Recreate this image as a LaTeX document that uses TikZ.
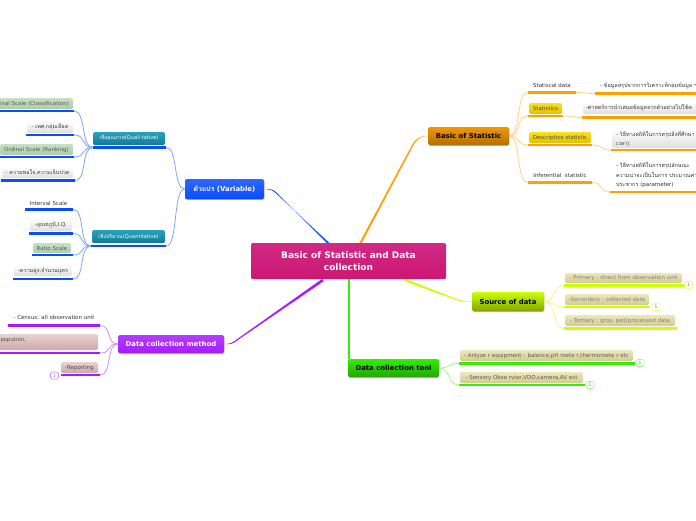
\documentclass[tikz,border=0pt]{standalone}
\usepackage{fontspec}
\setmainfont{DejaVu Sans}
\newfontfamily\tf[Script=Thai]{Loma}
\usetikzlibrary{shadows}
\definecolor{cOr}{HTML}{FF9F00}\definecolor{cOrL}{HTML}{FFCF85}
\definecolor{cBl}{HTML}{0A4CFF}\definecolor{cBlL}{HTML}{7FA5FF}
\definecolor{cPu}{HTML}{A61BFF}\definecolor{cPuL}{HTML}{D08CFF}
\definecolor{cLi}{HTML}{CCFF00}\definecolor{cLiL}{HTML}{E4FF80}
\definecolor{cGr}{HTML}{33EE00}\definecolor{cGrL}{HTML}{A0F880}
\tikzset{
 base/.style={rounded corners=1.5pt,inner sep=0pt,align=center},
 sh/.style={drop shadow={shadow xshift=0.4pt,shadow yshift=-0.8pt,opacity=.3,fill=black}},
 central/.style={base,fill=none,top color=D1,bottom color=D2,text=white,font=\fontsize{9}{12}\selectfont\bfseries},
 mainw/.style={base,sh,text=white,font=\fontsize{6.9}{9}\selectfont\bfseries},
 maink/.style={base,sh,text=black,font=\fontsize{6.9}{9}\selectfont\bfseries},
 teal/.style={base,top color=T1,bottom color=T2,text=white,font=\fontsize{5.1}{6}\selectfont},
 leaf/.style={base,font=\fontsize{5.5}{6.5}\selectfont,text=black!75},
 green box/.style={leaf,top color=G1,bottom color=G2,text=black!65},
 grey box/.style={leaf,top color=white,bottom color=black!13},
 yellow box/.style={leaf,top color=Y1,bottom color=Y2,text=black!70},
 tan box/.style={leaf,top color=N1,bottom color=N2,text=black!50},
 tan dark/.style={leaf,top color=N1,bottom color=N2,text=black!65},
 rose box/.style={leaf,top color=R1,bottom color=R2,text=black!70},
 plain/.style={leaf,text=black!80},
 badge/.style={draw=#1,fill=white,rounded corners=1.5pt,line width=.7pt,minimum width=8pt,minimum height=7pt,inner sep=0pt,font=\fontsize{4.5}{5}\selectfont,text=black!55},
 ulbar/.style={fill=#1,inner sep=0pt,minimum height=2.4pt},
 conn/.style={draw=#1,line width=.8pt,line cap=round},
}
\definecolor{D1}{HTML}{D02A84}\definecolor{D2}{HTML}{CC1773}
\definecolor{T1}{HTML}{2AA3BB}\definecolor{T2}{HTML}{127A96}
\definecolor{G1}{HTML}{C8E0C4}\definecolor{G2}{HTML}{ACCCA8}
\definecolor{Y1}{HTML}{F7E21E}\definecolor{Y2}{HTML}{E4BE00}
\definecolor{N1}{HTML}{EDE7BC}\definecolor{N2}{HTML}{D2CB90}
\definecolor{R1}{HTML}{E9D2D2}\definecolor{R2}{HTML}{CBA9A9}
% name, x0, y0, x1, y1, style, text
\newcommand\bx[7]{%
 \pgfmathsetmacro\bxc{(#2+#4)/2}\pgfmathsetmacro\byc{(#3+#5)/2}%
 \pgfmathsetmacro\bw{#4-#2}\pgfmathsetmacro\bh{#5-#3}%
 \node[#6,minimum width=\bw pt,minimum height=\bh pt] (#1) at (\bxc,\byc) {#7};}
% name, x0, x1, y, colour
\newcommand\ub[5]{%
 \pgfmathsetmacro\bxc{(#2+#3)/2}\pgfmathsetmacro\bw{#3-#2}%
 \node[ulbar=#5,minimum width=\bw pt] (#1) at (\bxc,#4) {};}
\newcommand\curveL[3]{\draw[conn=#3] (#1) .. controls +(-12,0) and +(12,0) .. (#2);}
\newcommand\curveR[3]{\draw[conn=#3] (#1) .. controls +(12,0) and +(-12,0) .. (#2);}
\begin{document}
\begin{tikzpicture}[x=1pt,y=-1pt]
\path[use as bounding box,clip] (0,0) rectangle (696,520);
% centre links (tapered)
\bx{stat}{428}{127}{509}{145}{maink,top color=cOr!95!black,bottom color=cOr!70!black}{Basic of Statistic}
\bx{var}{185}{179}{264}{199}{mainw,top color=cBl!85!white,bottom color=cBl}{{\tf ตัวแปร} (Variable)}
\bx{meth}{118}{335}{224}{353}{mainw,top color=cPu!85!white,bottom color=cPu}{Data collection method}
\bx{src}{472}{292}{544}{311}{maink,top color=cLi,bottom color=cLi!65!black}{Source of data}
\bx{tool}{348}{359}{439}{377}{maink,top color=cGr,bottom color=cGr!70!black}{Data collection tool}
\coordinate (oa) at (358.8,244);\coordinate (ob) at (361.2,244);
\fill[cOr] (oa) -- (412,145) .. controls (417,137) and (421,136) .. (stat.west) .. controls (421,136.6) and (418,137.5) .. (413,146) -- (ob) -- cycle;
\coordinate (ba) at (328,244);\coordinate (bb) at (330.5,244);
\fill[cBl] (ba) -- (276,192) .. controls (272.5,189) and (270,189) .. (var.east) .. controls (270,189.6) and (272,189.6) .. (275.5,193) -- (bb) -- cycle;
\coordinate (pa) at (322,279);\coordinate (pb) at (324,281);
\fill[cPu] (pa) -- (238,338.5) .. controls (232,343.5) and (229,344) .. (meth.east) .. controls (229,344.6) and (233,344.5) .. (238.5,339.5) -- (pb) -- cycle;
\coordinate (la) at (406,279);\coordinate (lb) at (405,281.5);
\fill[cLi] (la) -- (458,299.5) .. controls (463,301) and (467,301) .. (src.west) .. controls (467,301.7) and (462,302) .. (458,300.5) -- (lb) -- cycle;
\coordinate (ga) at (349,279);\coordinate (gb) at (349,359);
\draw[cGr,line width=1.6pt] (ga) -- (gb);
% main nodes drawn over the links
\bx{ctr}{251}{243}{446}{279}{central}{Basic of Statistic and Data\\collection}
% Variable: level 2
\bx{ql}{93}{132}{165}{145}{teal}{{\tf เชิงคุณภาพ}(Quali tative)}
\ub{qlU}{93}{166}{147.5}{cBl}
\bx{qn}{92}{230}{165}{243}{teal}{{\tf เชิงปริมาณ}(Quantitative)}
\ub{qnU}{91}{166}{246}{cBl}
\bx{a1}{-4}{98}{73}{109}{green box}{inal Scale (Classification)}
\ub{a1U}{-10}{74}{111}{cBl}
\bx{a2}{27}{121}{73}{133}{grey box}{- {\tf เพศ,กลุ่มเลือด}}
\ub{a2U}{26}{74}{135}{cBl}
\bx{a3}{0}{144}{73}{155}{green box}{Ordinal Scale (Ranking)}
\ub{a3U}{-5}{74}{157}{cBl}
\bx{a4}{2}{167}{73}{178}{grey box}{- {\tf ความพอใจ,ความเจ็บปวด}}
\ub{a4U}{1}{75}{180.5}{cBl}
\bx{b1}{26}{198}{71}{208}{plain}{Interval Scale}
\ub{b1U}{25}{73}{209.5}{cBl}
\bx{b2}{30}{219}{72}{231}{grey box}{-{\tf อุณหภูมิ},I.Q.}
\ub{b2U}{29}{73}{233.5}{cBl}
\bx{b3}{33}{243}{71}{253}{green box}{Ratio Scale}
\ub{b3U}{32}{73}{255}{cBl}
\bx{b4}{14}{265}{72}{276}{grey box}{-{\tf ความสูง,จำนวนบุตร}}
\ub{b4U}{13}{73}{279}{cBl}
\curveL{var.west}{qlU.east}{cBlL}
\curveL{var.west}{qnU.east}{cBlL}
\foreach \k in {a1,a2,a3,a4}{\curveL{qlU.west}{\k U.east}{cBlL}}
\foreach \k in {b1,b2,b3,b4}{\curveL{qnU.west}{\k U.east}{cBlL}}
% Method
\bx{m1}{10}{312}{98}{323}{plain}{- Census: all observation unit}
\ub{m1U}{8}{100}{325.5}{cPu}
\bx{m2}{-40}{334}{98}{350}{rose box}{\phantom{x}}
\node[font=\fontsize{5.3}{6}\selectfont,text=black!70,inner sep=0pt,anchor=east] (m2t) at (26,340) {popution,};
\ub{m2U}{-10}{100}{353}{cPu}
\bx{m3}{61}{362}{98}{373}{rose box}{-Reporting}
\ub{m3U}{61}{100}{375}{cPu}
\node[badge=cPuL] (m3b) at (54.5,375.5) {2};
\foreach \k in {m1,m2,m3}{\curveL{meth.west}{\k U.east}{cPuL}}
% Source
\bx{s1}{565}{273}{682}{283}{tan box}{- Primary : direct from observation unit}
\ub{s1U}{564}{684}{285.5}{cLi}
\node[badge=cLiL] (s1b) at (688.5,285) {1};
\bx{s2}{565}{294}{649}{305}{tan box}{-Secondary : collected data}
\ub{s2U}{564}{650}{307}{cLi}
\node[badge=cLiL] (s2b) at (656,307) {1};
\bx{s3}{565}{315}{675}{326}{tan box}{- Tertiary : grou\, ped/processed data}
\ub{s3U}{564}{677}{328.5}{cLi}
\foreach \k in {s1,s2,s3}{\curveR{src.east}{\k U.west}{cLiL}}
% Tool
\bx{t1}{460}{350}{633}{361}{tan dark}{- Anlyze r equipment : balance,pH mete r,thermomete r etc}
\ub{t1U}{459}{635}{363.5}{cGr}
\node[badge=cGrL] (t1b) at (640,363) {1};
\bx{t2}{460}{372}{583}{383}{tan dark}{- Sensory Obse rvior,VDO,camera,AV ect}
\ub{t2U}{459}{585}{385}{cGr}
\node[badge=cGrL] (t2b) at (590,385) {1};
\foreach \k in {t1,t2}{\curveR{tool.east}{\k U.west}{cGrL}}
% Statistic
\bx{d1}{530}{80}{574}{91}{plain}{Statiscal data}
\ub{d1U}{528}{576}{92.5}{cOr}
\bx{d2}{529}{103}{562}{114}{yellow box}{Statistics}
\ub{d2U}{528}{563}{116}{cOr}
\bx{d3}{529}{132}{591}{143}{yellow box}{Descriptive statistic}
\ub{d3U}{528}{592}{145}{cOr}
\bx{d4}{530}{170}{590}{181}{plain}{Inferential\,\, statistic}
\ub{d4U}{528}{592}{182.5}{cOr}
\foreach \k in {d1,d2,d3,d4}{\curveR{stat.east}{\k U.west}{cOrL}}
\bx{e1}{597}{80}{760}{91}{plain}{\makebox[163pt][l]{\hspace*{3pt}- {\tf ข้อมูลสรุปจากการวิเคราะห์กลุ่มข้อมูล ๆ}}}
\ub{e1U}{595}{720}{93.5}{cOr}
\bx{e2}{583}{102}{760}{114}{grey box}{\makebox[177pt][l]{\hspace*{3pt}-{\tf ศาสตร์การนำเสนอข้อมูลจากตัวอย่างไปใช้ค}}}
\ub{e2U}{582}{720}{117.5}{cOr}
\bx{e3}{612}{130}{760}{148}{grey box}{\parbox{146pt}{\baselineskip=9pt \hspace*{3pt}- {\tf วิธีทางสถิติในการสรุปสิ่งที่ศึกษา}\\\hspace*{3pt}{\tf เวลา)}}}
\ub{e3U}{611}{720}{150}{cOr}
\bx{e4}{612}{161}{760}{190}{plain}{\parbox{146pt}{\baselineskip=9.5pt \hspace*{3pt}- {\tf วิธีทางสถิติในการสรุปลักษณะ}\\\hspace*{3pt}{\tf ความน่าจะเป็นในการ ประมาณค่า}\\\hspace*{3pt}{\tf ประชากร} (parameter)}}
\ub{e4U}{610}{720}{192}{cOr}
\curveR{d1U.east}{e1U.west}{cOrL}
\curveR{d2U.east}{e2U.west}{cOrL}
\curveR{d3U.east}{e3U.west}{cOrL}
\curveR{d4U.east}{e4U.west}{cOrL}
\end{tikzpicture}
\end{document}
